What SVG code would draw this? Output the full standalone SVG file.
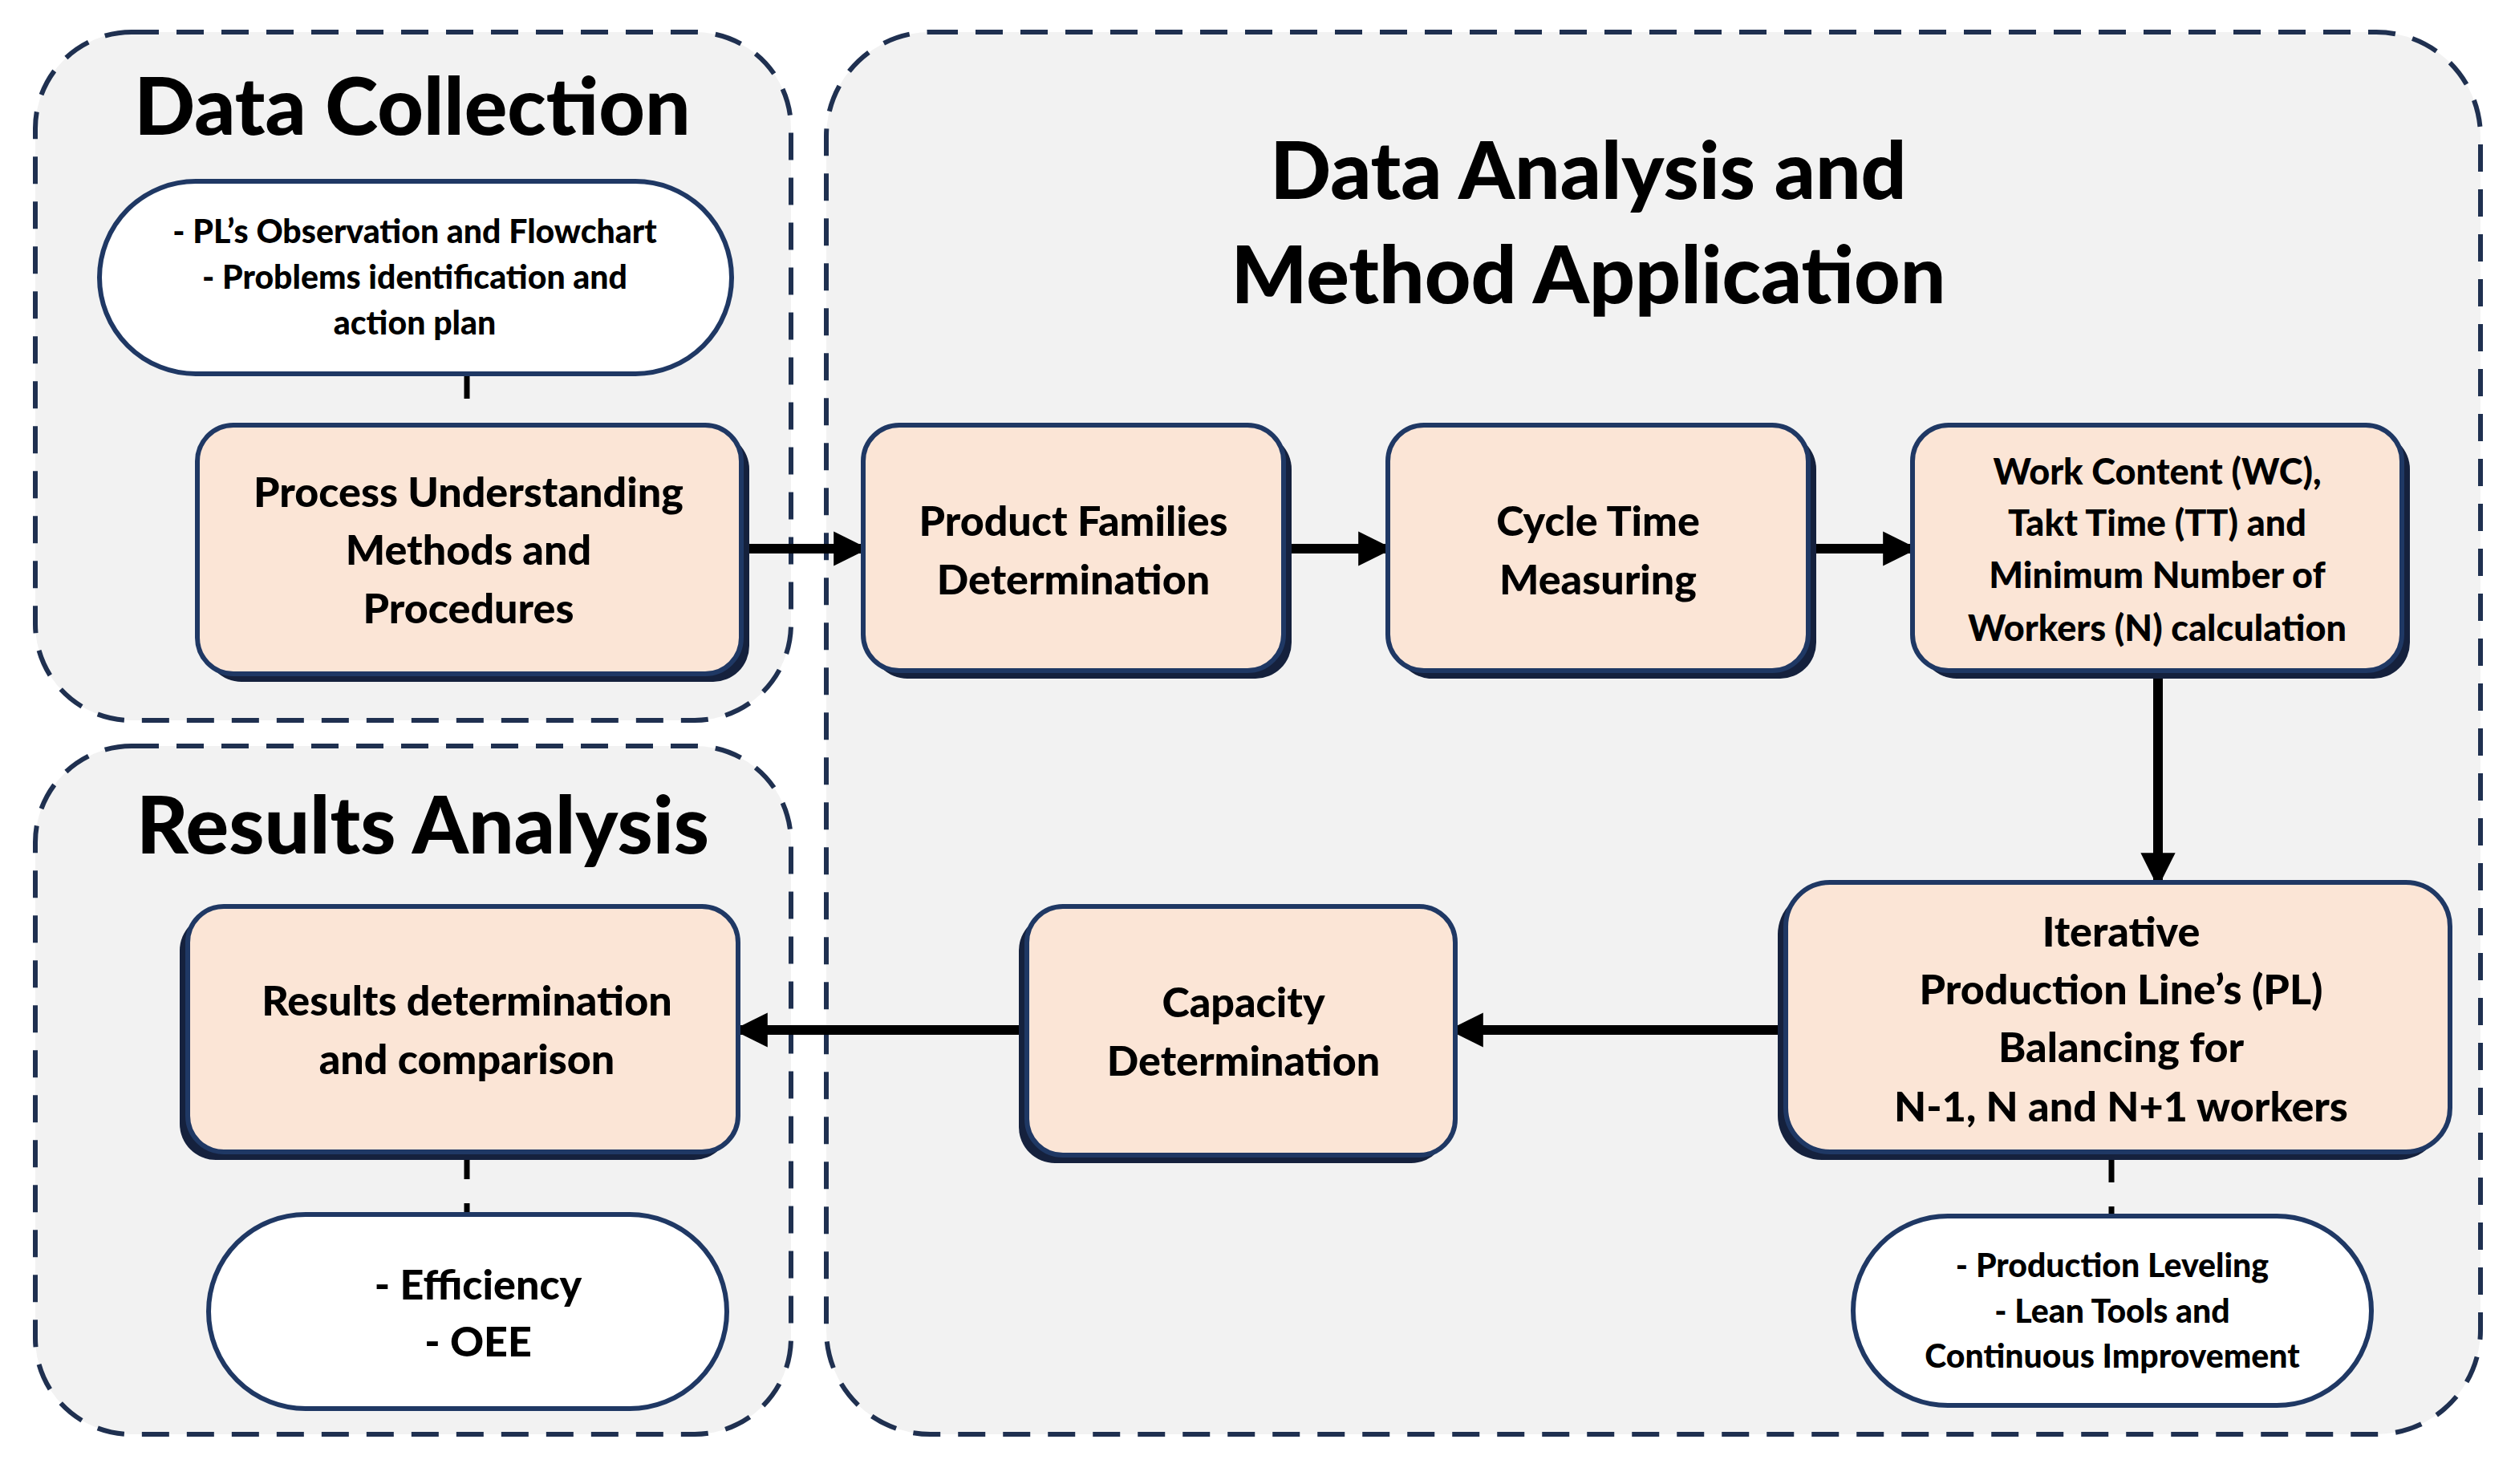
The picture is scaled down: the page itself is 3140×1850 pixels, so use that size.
<svg xmlns="http://www.w3.org/2000/svg" width="3140" height="1850" viewBox="0 0 3140 1850">
<style>
.cont{fill:#f2f2f2;stroke:#1f3050;stroke-width:6;stroke-dasharray:34 22}
.node{fill:#fbe5d6;stroke:#1f3864;stroke-width:6}
.sh{fill:#15213d}
.pill{fill:#fff;stroke:#1f3864;stroke-width:6}
text{font-family:Lato,"Liberation Sans",sans-serif;font-weight:900;fill:#000;text-anchor:middle}
.t{font-size:100px}
.n{font-size:52px}
.s{font-size:41px}
.w{font-size:45px}
.arr{stroke:#000;stroke-width:12;fill:none}
.dash{stroke:#000;stroke-width:7;stroke-dasharray:30 30;fill:none}
</style>
<defs><marker id="ah" markerWidth="3.6" markerHeight="3.6" refX="2.9" refY="1.8" orient="auto" markerUnits="strokeWidth"><path d="M0,0 L3.6,1.8 L0,3.6 Z" fill="#000"/></marker></defs>
<rect width="3140" height="1850" fill="#fff"/>
<g id="data-collection">
<rect class="cont" x="44" y="40" width="942" height="858" rx="120"/>
<text class="t" x="514" y="168">Data Collection</text>
</g>
<g id="data-analysis">
<rect class="cont" x="1030" y="40" width="2062" height="1748" rx="130"/>
<text class="t" x="1980" y="248">Data Analysis and</text>
<text class="t" x="1980" y="378">Method Application</text>
</g>
<g id="results-analysis">
<rect class="cont" x="44" y="930" width="942" height="858" rx="120"/>
<text class="t" x="527" y="1064">Results Analysis</text>
</g>
<g id="connectors">
<path class="dash" d="M582,467 V530"/>
<path class="dash" d="M2632,1444 V1516"/>
<path class="dash" d="M582,1440 V1514"/>
<path class="arr" marker-end="url(#ah)" d="M934,684 H1074"/>
<path class="arr" marker-end="url(#ah)" d="M1608,684 H1728"/>
<path class="arr" marker-end="url(#ah)" d="M2262,684 H2382"/>
<path class="arr" marker-end="url(#ah)" d="M2690,842 V1098"/>
<path class="arr" marker-end="url(#ah)" d="M2222,1284 H1814"/>
<path class="arr" marker-end="url(#ah)" d="M1276,1284 H922"/>
</g>
<g id="pill-dc">
<rect class="pill" x="124" y="226" width="788" height="240" rx="120"/>
<text class="s" x="517" y="303">- PL’s Observation and Flowchart</text>
<text class="s" x="517" y="360">- Problems identification and</text>
<text class="s" x="517" y="417">action plan</text>
</g>
<g id="process">
<rect class="sh" x="256" y="540" width="678" height="310" rx="45"/>
<rect class="node" x="246" y="530" width="678" height="310" rx="45"/>
<text class="n" x="584" y="632">Process Understanding</text>
<text class="n" x="584" y="704">Methods and</text>
<text class="n" x="584" y="777">Procedures</text>
</g>
<g id="product">
<rect class="sh" x="1086" y="540" width="524" height="306" rx="45"/>
<rect class="node" x="1076" y="530" width="524" height="306" rx="45"/>
<text class="n" x="1338" y="668">Product Families</text>
<text class="n" x="1338" y="741">Determination</text>
</g>
<g id="cycle">
<rect class="sh" x="1740" y="540" width="524" height="306" rx="45"/>
<rect class="node" x="1730" y="530" width="524" height="306" rx="45"/>
<text class="n" x="1992" y="668">Cycle Time</text>
<text class="n" x="1992" y="741">Measuring</text>
</g>
<g id="work">
<rect class="sh" x="2394" y="540" width="610" height="306" rx="45"/>
<rect class="node" x="2384" y="530" width="610" height="306" rx="45"/>
<text class="w" x="2689" y="604">Work Content (WC),</text>
<text class="w" x="2689" y="668">Takt Time (TT) and</text>
<text class="w" x="2689" y="733">Minimum Number of</text>
<text class="w" x="2689" y="799">Workers (N) calculation</text>
</g>
<g id="iterative">
<rect class="sh" x="2216" y="1110" width="828" height="336" rx="55"/>
<rect class="node" x="2226" y="1100" width="828" height="336" rx="55"/>
<text class="n" x="2644" y="1180">Iterative</text>
<text class="n" x="2644" y="1252">Production Line’s (PL)</text>
<text class="n" x="2644" y="1324">Balancing for</text>
<text class="n" x="2644" y="1398">N-1, N and N+1 workers</text>
</g>
<g id="pill-lean">
<rect class="pill" x="2310" y="1516" width="646" height="236" rx="118"/>
<text class="s" x="2633" y="1592">- Production Leveling</text>
<text class="s" x="2633" y="1649">- Lean Tools and</text>
<text class="s" x="2633" y="1705">Continuous Improvement</text>
</g>
<g id="capacity">
<rect class="sh" x="1270" y="1140" width="534" height="310" rx="45"/>
<rect class="node" x="1280" y="1130" width="534" height="310" rx="45"/>
<text class="n" x="1550" y="1268">Capacity</text>
<text class="n" x="1550" y="1341">Determination</text>
</g>
<g id="results">
<rect class="sh" x="224" y="1140" width="686" height="306" rx="45"/>
<rect class="node" x="234" y="1130" width="686" height="306" rx="45"/>
<text class="n" x="582" y="1266">Results determination</text>
<text class="n" x="582" y="1339">and comparison</text>
</g>
<g id="pill-res">
<rect class="pill" x="260" y="1514" width="646" height="242" rx="121"/>
<text class="n" x="596" y="1620">- Efficiency</text>
<text class="n" x="596" y="1691">- OEE</text>
</g>
</svg>
